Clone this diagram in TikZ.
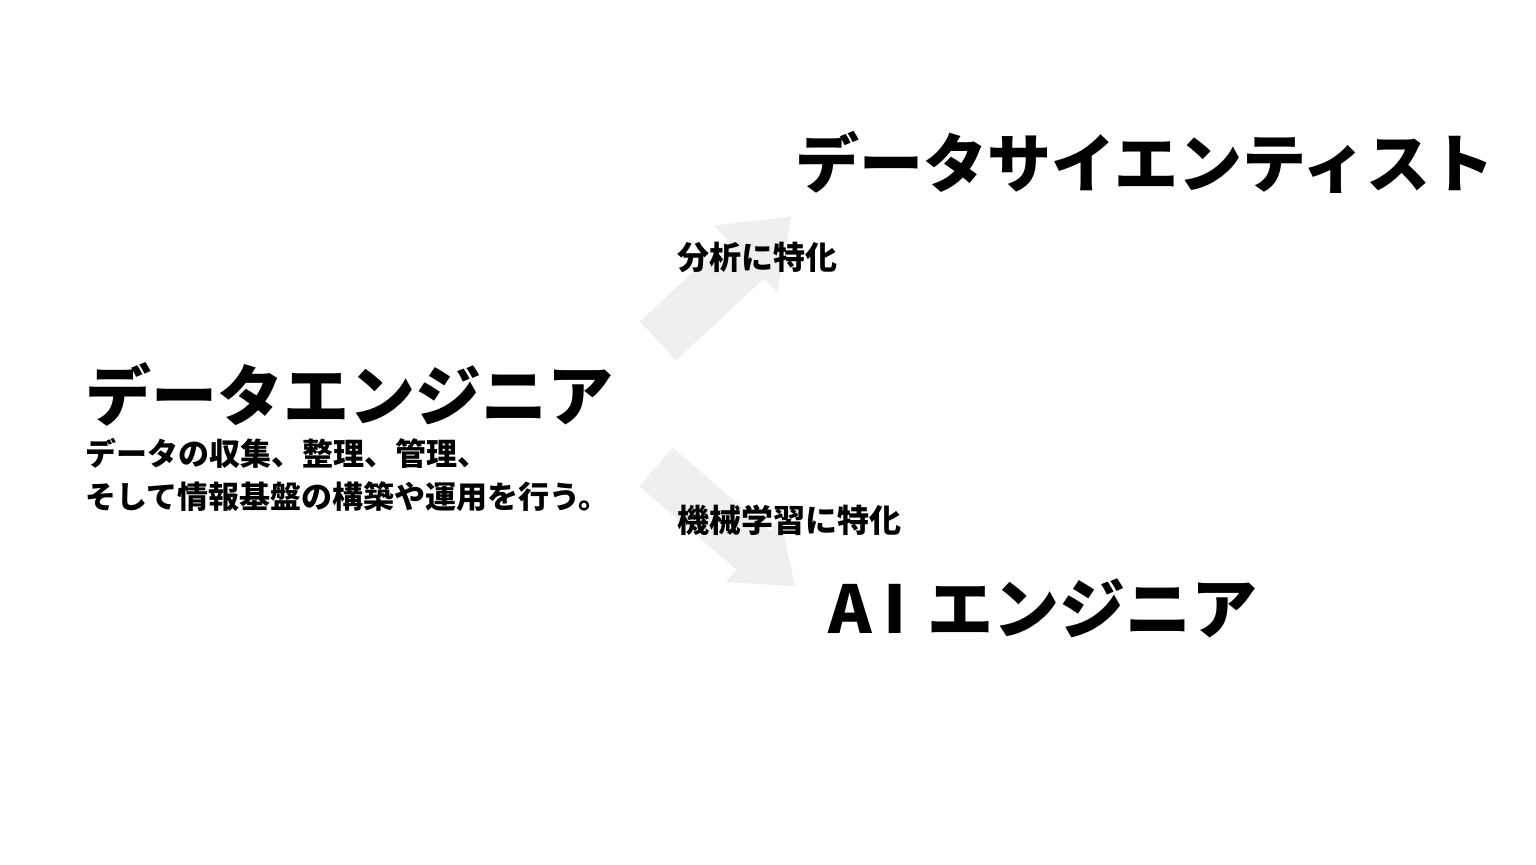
\documentclass[tikz,border=0pt]{standalone}
\usepackage{fontspec}
\usepackage{xcolor}
\usetikzlibrary{positioning}
\newfontfamily\jpfont{Noto Sans CJK JP}
\definecolor{arrowgray}{HTML}{EEEFF1}
\tikzset{fatarrow/.style={fill=arrowgray}}
\tikzset{bigtitle/.style={anchor=west,inner sep=0pt,font={\jpfont\bfseries\fontsize{32}{38}\selectfont}}}
\tikzset{tag/.style={anchor=west,inner sep=0pt,font={\jpfont\bfseries\fontsize{16}{19}\selectfont}}}

\begin{document}
\begin{tikzpicture}[x=0.5pt,y=0.5pt]
  \useasboundingbox (0,0) rectangle (1536,864);
  \fill[white] (0,0) rectangle (1536,864);

  % arrows first, labels sit on top of them
  \begin{scope}[shift={(658,523)},rotate=43]
    \fill[fatarrow] (0,-26.5) -- (120,-26.5) -- (120,-46) -- (182,0) -- (120,46) -- (120,26.5) -- (0,26.5) -- cycle;
  \end{scope}
  \begin{scope}[shift={(656,397)},rotate=-40.6]
    \fill[fatarrow] (0,-25.5) -- (128,-25.5) -- (128,-42) -- (183,0) -- (128,42) -- (128,25.5) -- (0,25.5) -- cycle;
  \end{scope}

  \node[bigtitle,font={\jpfont\bfseries\fontsize{33}{40}\selectfont}] (de) at (85,470) {データエンジニア};
  \node[anchor=west,inner sep=0pt,align=left,font={\jpfont\bfseries\fontsize{15.5}{21.5}\selectfont}] (detext) at (85,389.5)
    {データの収集、整理、管理、\\そして情報基盤の構築や運用を行う。};

  \node[bigtitle] (ds) at (795,702) {データサイエンティスト};
  \node[bigtitle,font={\jpfont\bfseries\fontsize{33}{40}\selectfont}] (ai) at (828,256) {A\hspace{6pt}I\hspace{10pt}エンジニア};

  \node[tag] (tods) at (677,607) {分析に特化};
  \node[tag] (toai) at (677,344) {機械学習に特化};
\end{tikzpicture}
\end{document}
